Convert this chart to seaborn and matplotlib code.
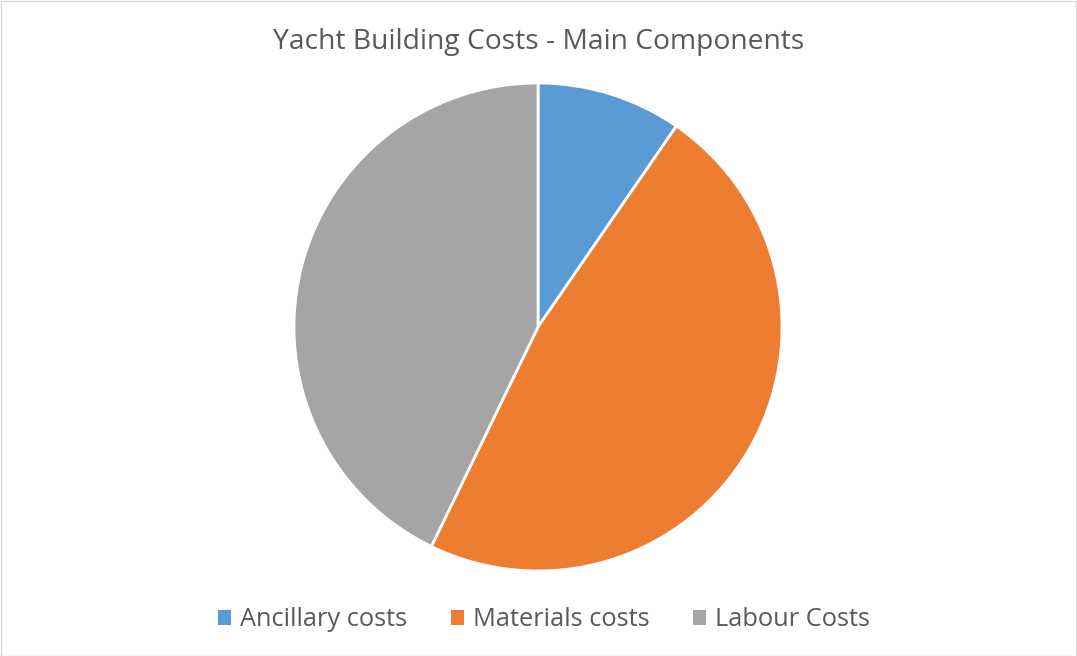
import matplotlib
matplotlib.use("Agg")
import matplotlib.pyplot as plt
import seaborn as sns

labels = ["Ancillary costs", "Materials costs", "Labour Costs"]
shares = [9.6, 47.6, 42.8]
colors = ["#5B9BD5", "#ED7D31", "#A5A5A5"]

sns.set_theme(style="white")
plt.rcParams['font.family'] = ['Open Sans', 'DejaVu Sans']

W, H = 1077, 656
fig = plt.figure(figsize=(W / 100, H / 100), dpi=100)
fig.patch.set_facecolor("white")

cx, cy, r = 538, 327, 244
ax = fig.add_axes([(cx - r) / W, (H - cy - r) / H, 2 * r / W, 2 * r / H])
wedges, _ = ax.pie(shares, colors=sns.color_palette(colors), startangle=90, counterclock=False,
                   radius=1, wedgeprops=dict(edgecolor="white", linewidth=2))
ax.set_aspect("equal")
ax.set_xlim(-1.0, 1.0)
ax.set_ylim(-1.0, 1.0)
ax.axis("off")

fig.text(0.5, 1 - 42 / H, "Yacht Building Costs - Main Components", ha="center", va="center",
         fontsize=20.3, color="#595959")

handles = [plt.Rectangle((0, 0), 1, 1, facecolor=c, edgecolor="none") for c in colors]
fig.legend(handles, labels, loc="center", bbox_to_anchor=(544 / W, 1 - 620 / H), ncol=3, frameon=False,
           fontsize=18.3, labelcolor="#595959", handlelength=0.52, handleheight=0.52,
           handletextpad=0.35, columnspacing=1.7)

border = plt.Rectangle((0.5 / W, 0.5 / H), 1 - 1.5 / W, 1 - 1.5 / H, transform=fig.transFigure,
                       fill=False, edgecolor="#D9D9D9", linewidth=1)
fig.add_artist(border)

fig.savefig("out.png", dpi=100)
